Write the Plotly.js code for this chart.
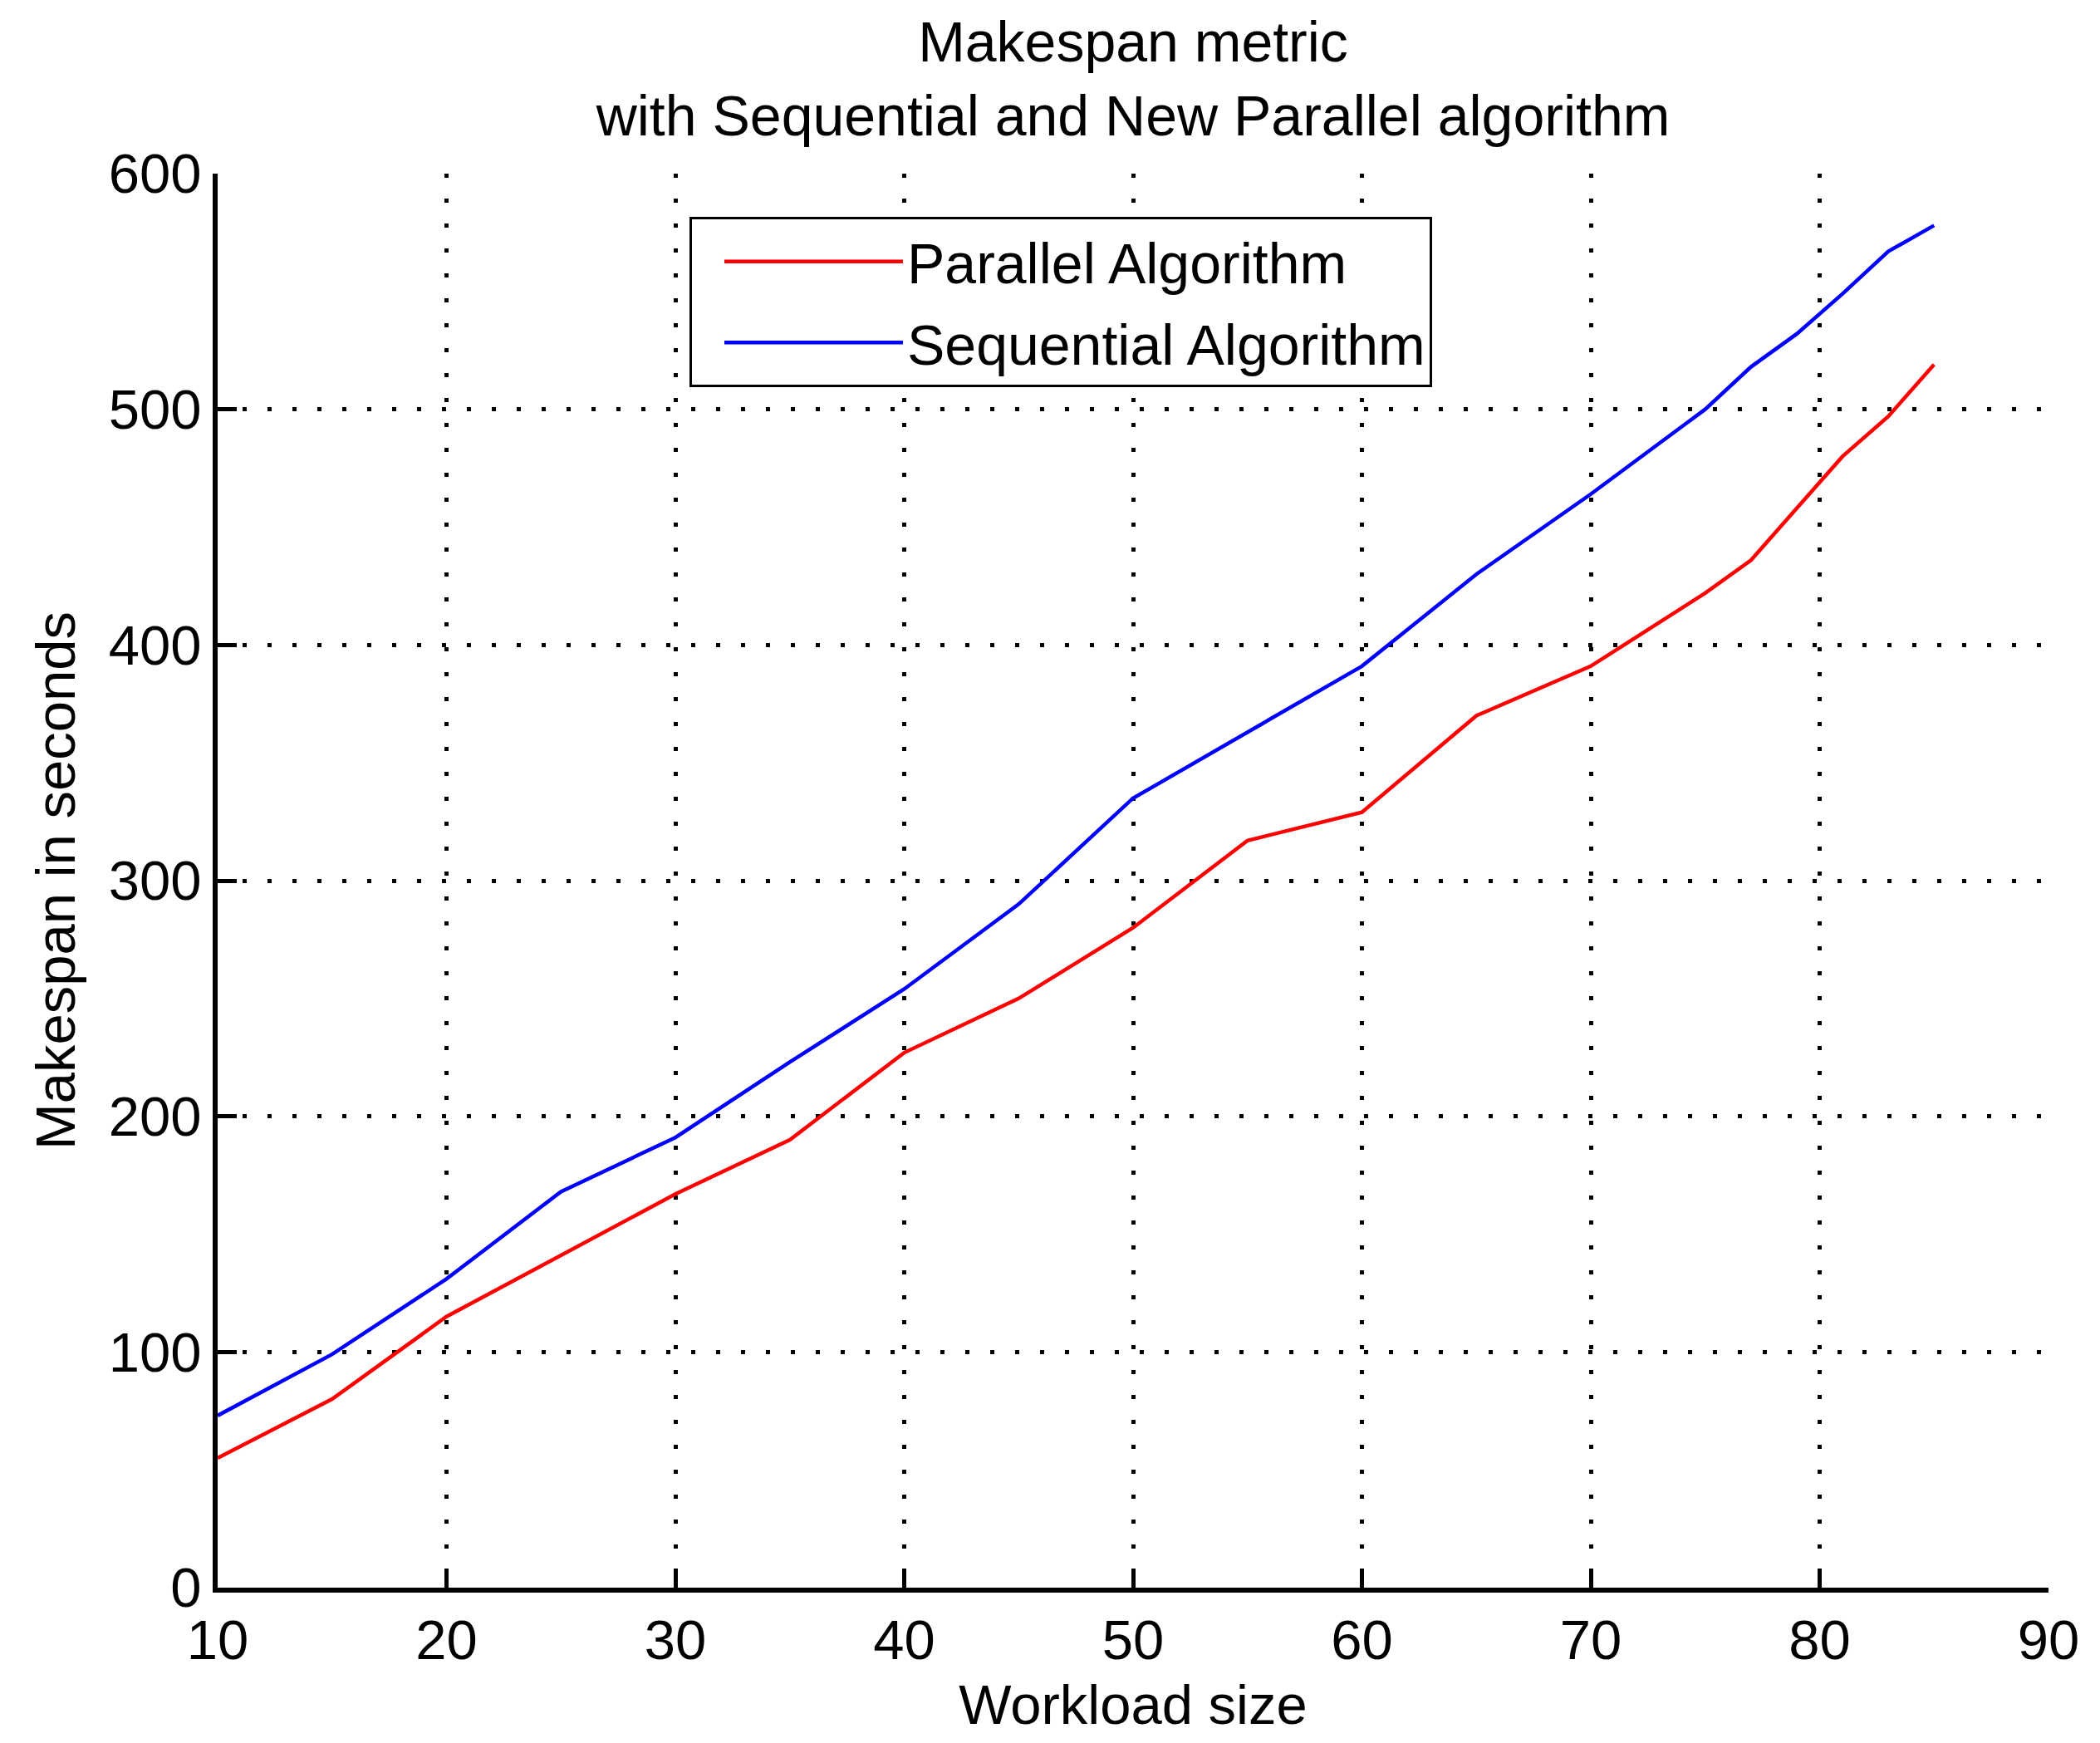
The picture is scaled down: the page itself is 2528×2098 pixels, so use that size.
<!DOCTYPE html>
<html>
<head>
<meta charset="utf-8">
<script src="https://cdn.plot.ly/plotly-3.0.1.min.js"></script>
<style>html,body{margin:0;padding:0;background:#fff;}#chart{width:2528px;height:2098px;}</style>
</head>
<body>
<div id="chart"></div>
<script>
var workload = [10, 15, 20, 25, 30, 35, 40, 45, 50, 55, 60, 65, 70, 75, 77, 79, 81, 83, 85];
var parallelMakespan = [55, 80, 115, 141, 167, 190, 227, 250, 280, 317, 329, 370, 391, 422, 436, 458, 480, 497, 519];
var sequentialMakespan = [73, 99, 131, 168, 191, 223, 254, 290, 335, 363, 391, 430, 464, 500, 518, 532, 549, 567, 578];
var xTicks = [10, 20, 30, 40, 50, 60, 70, 80, 90];
var yTicks = [0, 100, 200, 300, 400, 500, 600];

var FONT = '"Liberation Sans", Arial, Helvetica, sans-serif';

var traces = [
  {x: workload, y: parallelMakespan, type: 'scatter', mode: 'lines', name: 'Parallel Algorithm',
   legendgroup: 'par', line: {color: '#ff0000', width: 4.5}},
  {x: workload, y: sequentialMakespan, type: 'scatter', mode: 'lines', name: 'Sequential Algorithm',
   legendgroup: 'seq', line: {color: '#0000ff', width: 4.5}}
];

var axisCommon = {
  showline: true, linecolor: '#000', linewidth: 6, mirror: false,
  ticks: 'inside', ticklen: 23, tickwidth: 5, tickcolor: '#000',
  showgrid: true, gridcolor: '#000', gridwidth: 5, griddash: '5px,25px',
  zeroline: false, tickfont: {family: FONT, size: 67, color: '#000'}
};

var layout = {
  width: 2528, height: 2098,
  paper_bgcolor: '#fff', plot_bgcolor: '#fff',
  margin: {l: 262, r: 62, t: 209, b: 187},
  font: {family: FONT, size: 67, color: '#000'},
  title: {text: 'Makespan metric<br>with Sequential and New Parallel algorithm',
    font: {family: FONT, size: 68, color: '#000'},
    x: 0.5, xref: 'paper', xanchor: 'center', y: 0.9645, yref: 'container', yanchor: 'top'},
  xaxis: Object.assign({}, axisCommon, {
    range: [10, 90], tickvals: xTicks, ticktext: xTicks.map(String),
    title: {text: 'Workload size', font: {family: FONT, size: 67, color: '#000'}, standoff: 20}
  }),
  yaxis: Object.assign({}, axisCommon, {
    range: [0, 600], tickvals: yTicks, ticktext: yTicks.map(String),
    title: {text: 'Makespan in seconds', font: {family: FONT, size: 67, color: '#000'}, standoff: 20}
  }),
  showlegend: true,
  legend: {x: 0.2577, y: 0.9694, xanchor: 'left', yanchor: 'top', xref: 'paper', yref: 'paper',
    bgcolor: '#fff', bordercolor: '#000', borderwidth: 3,
    font: {family: FONT, size: 68, color: '#000'}, itemwidth: 215, indentation: 34,
    tracegroupgap: 6}
};

Plotly.newPlot('chart', traces, layout, {displayModeBar: false, staticPlot: true});
</script>
</body>
</html>
